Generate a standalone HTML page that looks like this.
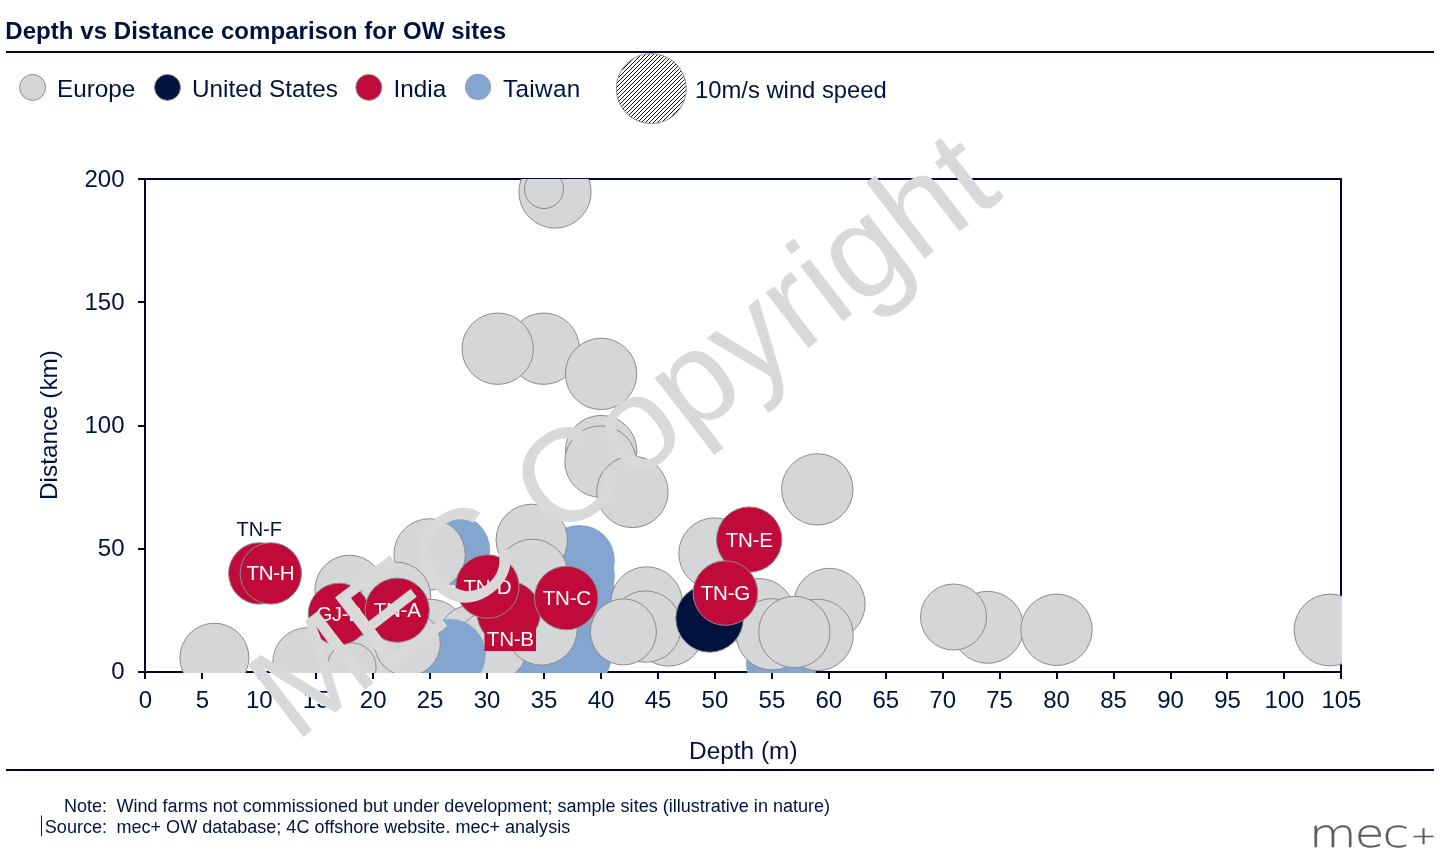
<!DOCTYPE html>
<html lang="en">
<head>
<meta charset="utf-8">
<title>Depth vs Distance comparison for OW sites</title>
<style>
html,body{margin:0;padding:0;background:#fff;}
body{width:1442px;height:857px;overflow:hidden;position:relative;font-family:"Liberation Sans",sans-serif;color:#00133f;}
svg{position:absolute;left:0;top:0;display:block;}
svg text{font-family:"Liberation Sans",sans-serif;}
.logo{font-family:"DejaVu Sans","Liberation Sans",sans-serif;font-weight:200;}
</style>
</head>
<body>
<svg width="1442" height="857" viewBox="0 0 1442 857">
<defs>
<clipPath id="plot"><rect x="144" y="179" width="1198" height="494"/></clipPath>
<pattern id="hatch" x="0" y="0" width="4" height="4" patternUnits="userSpaceOnUse">
<path d="M0 3h1v1h-1zM1 2h1v1h-1zM2 1h1v1h-1zM3 0h1v1h-1z" fill="#00133f" shape-rendering="crispEdges"/>
</pattern>
</defs>
<rect x="0" y="0" width="1442" height="857" fill="#fff"/>
<!-- title -->
<text x="5.3" y="38.8" font-size="24" letter-spacing="0.05" font-weight="bold" fill="#00133f">Depth vs Distance comparison for OW sites</text>
<rect x="6" y="51" width="1428" height="2" fill="#00062e"/>
<!-- legend -->
<circle cx="32.6" cy="87.4" r="13" fill="#d5d6d8" stroke="#8c8c8c" stroke-width="1"/>
<text x="57" y="96.5" font-size="24.3" fill="#00133f">Europe</text>
<circle cx="167.5" cy="87.4" r="13" fill="#00133f" stroke="#8c8c8c" stroke-width="1"/>
<text x="192" y="96.5" font-size="24.3" fill="#00133f">United States</text>
<circle cx="368.8" cy="87.4" r="13" fill="#c00a3a" stroke="#8c8c8c" stroke-width="1"/>
<text x="393.5" y="96.5" font-size="24.3" fill="#00133f">India</text>
<circle cx="478" cy="86.9" r="13.1" fill="#84a5cf"/>
<text x="503" y="96.5" font-size="24.3" letter-spacing="0.35" fill="#00133f">Taiwan</text>
<circle cx="651.3" cy="88.6" r="35" fill="url(#hatch)" stroke="#8c8c8c" stroke-width="1"/>
<text x="695" y="98" font-size="23.8" fill="#00133f">10m/s wind speed</text>
<!-- axes frame -->
<rect x="138" y="178" width="1204" height="2" fill="#00062e"/>
<rect x="144" y="178" width="2" height="495" fill="#00062e"/>
<rect x="1340" y="178" width="2" height="501" fill="#00062e"/>
<rect x="138" y="671" width="1204" height="2" fill="#00062e"/>
<rect x="144" y="672" width="2" height="7" fill="#00062e"/>
<text x="145.4" y="708" text-anchor="middle" font-size="24" fill="#00133f">0</text>
<rect x="201" y="672" width="2" height="7" fill="#00062e"/>
<text x="202.4" y="708" text-anchor="middle" font-size="24" fill="#00133f">5</text>
<rect x="258" y="672" width="2" height="7" fill="#00062e"/>
<text x="259.3" y="708" text-anchor="middle" font-size="24" fill="#00133f">10</text>
<rect x="315" y="672" width="2" height="7" fill="#00062e"/>
<text x="316.2" y="708" text-anchor="middle" font-size="24" fill="#00133f">15</text>
<rect x="372" y="672" width="2" height="7" fill="#00062e"/>
<text x="373.2" y="708" text-anchor="middle" font-size="24" fill="#00133f">20</text>
<rect x="429" y="672" width="2" height="7" fill="#00062e"/>
<text x="430.1" y="708" text-anchor="middle" font-size="24" fill="#00133f">25</text>
<rect x="486" y="672" width="2" height="7" fill="#00062e"/>
<text x="487.1" y="708" text-anchor="middle" font-size="24" fill="#00133f">30</text>
<rect x="543" y="672" width="2" height="7" fill="#00062e"/>
<text x="544.1" y="708" text-anchor="middle" font-size="24" fill="#00133f">35</text>
<rect x="600" y="672" width="2" height="7" fill="#00062e"/>
<text x="601.0" y="708" text-anchor="middle" font-size="24" fill="#00133f">40</text>
<rect x="657" y="672" width="2" height="7" fill="#00062e"/>
<text x="658.0" y="708" text-anchor="middle" font-size="24" fill="#00133f">45</text>
<rect x="714" y="672" width="2" height="7" fill="#00062e"/>
<text x="714.9" y="708" text-anchor="middle" font-size="24" fill="#00133f">50</text>
<rect x="771" y="672" width="2" height="7" fill="#00062e"/>
<text x="771.9" y="708" text-anchor="middle" font-size="24" fill="#00133f">55</text>
<rect x="828" y="672" width="2" height="7" fill="#00062e"/>
<text x="828.8" y="708" text-anchor="middle" font-size="24" fill="#00133f">60</text>
<rect x="885" y="672" width="2" height="7" fill="#00062e"/>
<text x="885.8" y="708" text-anchor="middle" font-size="24" fill="#00133f">65</text>
<rect x="942" y="672" width="2" height="7" fill="#00062e"/>
<text x="942.7" y="708" text-anchor="middle" font-size="24" fill="#00133f">70</text>
<rect x="999" y="672" width="2" height="7" fill="#00062e"/>
<text x="999.6" y="708" text-anchor="middle" font-size="24" fill="#00133f">75</text>
<rect x="1056" y="672" width="2" height="7" fill="#00062e"/>
<text x="1056.6" y="708" text-anchor="middle" font-size="24" fill="#00133f">80</text>
<rect x="1113" y="672" width="2" height="7" fill="#00062e"/>
<text x="1113.6" y="708" text-anchor="middle" font-size="24" fill="#00133f">85</text>
<rect x="1170" y="672" width="2" height="7" fill="#00062e"/>
<text x="1170.5" y="708" text-anchor="middle" font-size="24" fill="#00133f">90</text>
<rect x="1226" y="672" width="2" height="7" fill="#00062e"/>
<text x="1227.5" y="708" text-anchor="middle" font-size="24" fill="#00133f">95</text>
<rect x="1283" y="672" width="2" height="7" fill="#00062e"/>
<text x="1284.4" y="708" text-anchor="middle" font-size="24" fill="#00133f">100</text>
<rect x="1340" y="672" width="2" height="7" fill="#00062e"/>
<text x="1341.4" y="708" text-anchor="middle" font-size="24" fill="#00133f">105</text>
<rect x="138" y="671" width="7" height="2" fill="#00062e"/>
<text x="124.5" y="679.2" text-anchor="end" font-size="24" fill="#00133f">0</text>
<rect x="138" y="548" width="7" height="2" fill="#00062e"/>
<text x="124.5" y="556.2" text-anchor="end" font-size="24" fill="#00133f">50</text>
<rect x="138" y="425" width="7" height="2" fill="#00062e"/>
<text x="124.5" y="433.2" text-anchor="end" font-size="24" fill="#00133f">100</text>
<rect x="138" y="301" width="7" height="2" fill="#00062e"/>
<text x="124.5" y="310.2" text-anchor="end" font-size="24" fill="#00133f">150</text>
<rect x="138" y="178" width="7" height="2" fill="#00062e"/>
<text x="124.5" y="187.2" text-anchor="end" font-size="24" fill="#00133f">200</text>

<text x="743.3" y="758.7" text-anchor="middle" font-size="24.4" fill="#00133f">Depth (m)</text>
<text transform="translate(56.6,425) rotate(-90)" text-anchor="middle" font-size="24.3" fill="#00133f">Distance (km)</text>
<!-- bubbles -->
<g clip-path="url(#plot)">
<circle cx="454.6" cy="550.0" r="35.5" fill="#84a5cf"/>
<circle cx="579.3" cy="560.4" r="35.5" fill="#84a5cf"/>
<circle cx="579.4" cy="576.0" r="35.5" fill="#84a5cf"/>
<circle cx="579.5" cy="592.0" r="35.5" fill="#84a5cf"/>
<circle cx="576.5" cy="654.7" r="35.5" fill="#84a5cf"/>
<circle cx="547.0" cy="656.0" r="35.5" fill="#84a5cf"/>
<circle cx="781.5" cy="663.0" r="35.5" fill="#84a5cf"/>
<circle cx="555.0" cy="192.0" r="36.1" fill="#d5d6d8" stroke="#8c8c8c" stroke-width="1"/>
<circle cx="544.0" cy="189.0" r="19.5" fill="#d5d6d8" stroke="#8c8c8c" stroke-width="1"/>
<circle cx="543.7" cy="348.7" r="35.7" fill="#d5d6d8" stroke="#8c8c8c" stroke-width="1"/>
<circle cx="497.7" cy="348.7" r="35.7" fill="#d5d6d8" stroke="#8c8c8c" stroke-width="1"/>
<circle cx="601.1" cy="373.9" r="35.7" fill="#d5d6d8" stroke="#8c8c8c" stroke-width="1"/>
<circle cx="601.1" cy="451.1" r="35.7" fill="#d5d6d8" stroke="#8c8c8c" stroke-width="1"/>
<circle cx="600.5" cy="461.6" r="35.7" fill="#d5d6d8" stroke="#8c8c8c" stroke-width="1"/>
<circle cx="632.4" cy="491.9" r="35.7" fill="#d5d6d8" stroke="#8c8c8c" stroke-width="1"/>
<circle cx="817.3" cy="489.4" r="35.7" fill="#d5d6d8" stroke="#8c8c8c" stroke-width="1"/>
<circle cx="214.4" cy="657.7" r="34.5" fill="#d5d6d8" stroke="#8c8c8c" stroke-width="1"/>
<circle cx="349.4" cy="589.7" r="34.5" fill="#d5d6d8" stroke="#8c8c8c" stroke-width="1"/>
<circle cx="307.3" cy="662.2" r="34.5" fill="#d5d6d8" stroke="#8c8c8c" stroke-width="1"/>
<circle cx="340.6" cy="615.6" r="30.0" fill="#00133f" stroke="#8c8c8c" stroke-width="1"/>
<circle cx="370.0" cy="670.0" r="35.7" fill="#d5d6d8" stroke="#8c8c8c" stroke-width="1"/>
<circle cx="351.6" cy="667.3" r="24.5" fill="#d5d6d8" stroke="#8c8c8c" stroke-width="1"/>
<circle cx="429.6" cy="554.4" r="35.7" fill="#d5d6d8" stroke="#8c8c8c" stroke-width="1"/>
<circle cx="395.8" cy="597.0" r="35.0" fill="#d5d6d8" stroke="#8c8c8c" stroke-width="1"/>
<circle cx="430.6" cy="635.0" r="35.7" fill="#d5d6d8" stroke="#8c8c8c" stroke-width="1"/>
<circle cx="473.3" cy="640.0" r="35.7" fill="#d5d6d8" stroke="#8c8c8c" stroke-width="1"/>
<circle cx="491.6" cy="646.5" r="35.7" fill="#d5d6d8" stroke="#8c8c8c" stroke-width="1"/>
<circle cx="450.3" cy="654.6" r="35.5" fill="#84a5cf"/>
<circle cx="407.4" cy="643.2" r="32.9" fill="#d5d6d8" stroke="#8c8c8c" stroke-width="1"/>
<circle cx="531.8" cy="539.9" r="35.7" fill="#d5d6d8" stroke="#8c8c8c" stroke-width="1"/>
<circle cx="532.3" cy="574.9" r="35.7" fill="#d5d6d8" stroke="#8c8c8c" stroke-width="1"/>
<circle cx="541.5" cy="629.4" r="35.7" fill="#d5d6d8" stroke="#8c8c8c" stroke-width="1"/>
<circle cx="668.5" cy="630.4" r="35.7" fill="#d5d6d8" stroke="#8c8c8c" stroke-width="1"/>
<circle cx="646.6" cy="602.5" r="35.7" fill="#d5d6d8" stroke="#8c8c8c" stroke-width="1"/>
<circle cx="645.6" cy="626.6" r="35.7" fill="#d5d6d8" stroke="#8c8c8c" stroke-width="1"/>
<circle cx="623.4" cy="631.9" r="33.0" fill="#d5d6d8" stroke="#8c8c8c" stroke-width="1"/>
<circle cx="714.5" cy="553.6" r="35.7" fill="#d5d6d8" stroke="#8c8c8c" stroke-width="1"/>
<circle cx="829.4" cy="604.0" r="35.7" fill="#d5d6d8" stroke="#8c8c8c" stroke-width="1"/>
<circle cx="758.9" cy="614.2" r="35.7" fill="#d5d6d8" stroke="#8c8c8c" stroke-width="1"/>
<circle cx="817.6" cy="634.9" r="35.7" fill="#d5d6d8" stroke="#8c8c8c" stroke-width="1"/>
<circle cx="772.0" cy="634.3" r="35.7" fill="#d5d6d8" stroke="#8c8c8c" stroke-width="1"/>
<circle cx="794.3" cy="632.0" r="35.7" fill="#d5d6d8" stroke="#8c8c8c" stroke-width="1"/>
<circle cx="987.6" cy="627.3" r="36.0" fill="#d5d6d8" stroke="#8c8c8c" stroke-width="1"/>
<circle cx="953.5" cy="617.0" r="33.0" fill="#d5d6d8" stroke="#8c8c8c" stroke-width="1"/>
<circle cx="1056.5" cy="629.8" r="35.7" fill="#d5d6d8" stroke="#8c8c8c" stroke-width="1"/>
<circle cx="1330.0" cy="630.0" r="35.9" fill="#d5d6d8" stroke="#8c8c8c" stroke-width="1"/>
<circle cx="709.6" cy="618.4" r="33.8" fill="#00133f" stroke="#8c8c8c" stroke-width="1"/>
<circle cx="259.3" cy="573.4" r="30.7" fill="#c00a3a" stroke="#8c8c8c" stroke-width="1"/>
<circle cx="270.8" cy="573.4" r="30.7" fill="#c00a3a" stroke="#8c8c8c" stroke-width="1"/>
<circle cx="339.0" cy="614.0" r="30.8" fill="#c00a3a" stroke="#8c8c8c" stroke-width="1"/>
<circle cx="397.2" cy="610.2" r="32.1" fill="#c00a3a" stroke="#8c8c8c" stroke-width="1"/>
<circle cx="508.7" cy="613.0" r="31.7" fill="#c00a3a" stroke="#8c8c8c" stroke-width="1"/>
<circle cx="487.4" cy="586.5" r="31.7" fill="#c00a3a" stroke="#8c8c8c" stroke-width="1"/>
<circle cx="566.3" cy="598.0" r="31.8" fill="#c00a3a" stroke="#8c8c8c" stroke-width="1"/>
<circle cx="749.2" cy="539.6" r="32.7" fill="#c00a3a" stroke="#8c8c8c" stroke-width="1"/>
<circle cx="725.4" cy="593.1" r="32.3" fill="#c00a3a" stroke="#8c8c8c" stroke-width="1"/>
</g>
<rect x="484.5" y="628.5" width="51.5" height="22.5" fill="#c00a3a"/>
<text x="510.3" y="646.3" text-anchor="middle" font-size="20.6" letter-spacing="-0.3" fill="#fff">TN-B</text>
<text x="270.4" y="580.3" text-anchor="middle" font-size="20.6" letter-spacing="-0.3" fill="#fff">TN-H</text>
<text x="339.0" y="621.0" text-anchor="middle" font-size="20.6" letter-spacing="-0.3" fill="#fff">GJ-B</text>
<text x="397.2" y="617.0" text-anchor="middle" font-size="20.6" letter-spacing="-0.3" fill="#fff">TN-A</text>
<text x="487.4" y="593.5" text-anchor="middle" font-size="20.6" letter-spacing="-0.3" fill="#fff">TN-D</text>
<text x="566.8" y="605.1" text-anchor="middle" font-size="20.6" letter-spacing="-0.3" fill="#fff">TN-C</text>
<text x="749.2" y="546.6" text-anchor="middle" font-size="20.6" letter-spacing="-0.3" fill="#fff">TN-E</text>
<text x="725.4" y="600.1" text-anchor="middle" font-size="20.6" letter-spacing="-0.3" fill="#fff">TN-G</text>

<text x="259.2" y="536" text-anchor="middle" font-size="20" fill="#00133f">TN-F</text>
<!-- watermark -->
<text transform="translate(302,738) rotate(-37.6)" x="-9" y="0" font-size="132.2" fill="#d9d9d9">MEC Copyright</text>
<!-- footer -->
<rect x="6" y="769" width="1428" height="2" fill="#00062e"/>
<text x="107" y="811.9" text-anchor="end" font-size="18.05" fill="#00133f">Note:</text>
<text x="116.5" y="811.9" font-size="18.05" fill="#00133f">Wind farms not commissioned but under development; sample sites (illustrative in nature)</text>
<text x="107" y="833.1" text-anchor="end" font-size="18.05" fill="#00133f">Source:</text>
<text x="116.5" y="833.1" font-size="18.05" fill="#00133f">mec+ OW database; 4C offshore website. mec+ analysis</text>
<rect x="41" y="815.5" width="1" height="20.5" fill="#00133f"/>
<text class="logo" transform="translate(1300,847.4) scale(1.24,1)" x="7.5 44.1 66.6" y="0" font-size="39" fill="#5e5e5e" stroke="#5e5e5e" stroke-width="0.3" style="font-family:'DejaVu Sans','Liberation Sans',sans-serif;font-weight:200">mec<tspan x="89.2" dy="-3.1" font-size="25.2">+</tspan></text>
</svg>
</body>
</html>
